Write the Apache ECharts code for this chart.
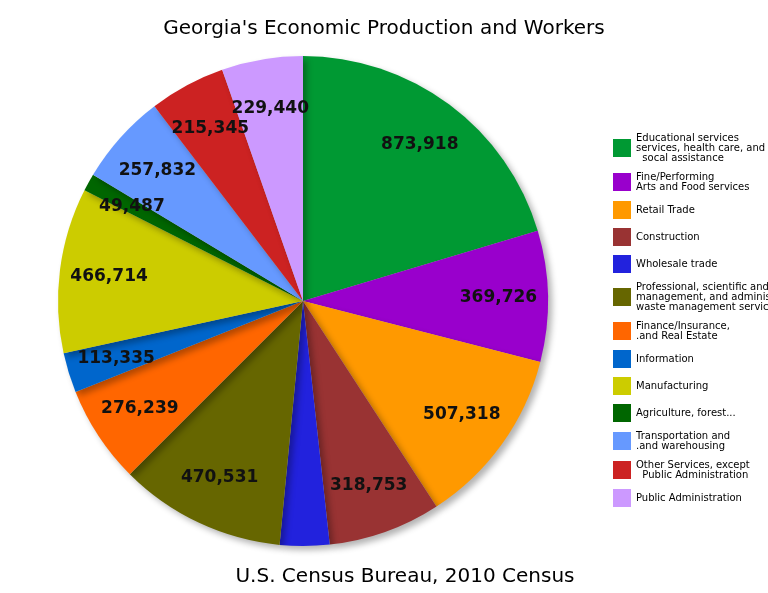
<!DOCTYPE html><html><head><meta charset="utf-8"><script src="https://cdn.jsdelivr.net/npm/echarts@6/dist/echarts.min.js"></script></head><body style="margin:0;background:#fff"><div id="c" style="width:768px;height:593px"></div><script>
const categories=["Educational services\nservices, health care, and\n  socal assistance","Fine/Performing\nArts and Food services","Retail Trade","Construction","Wholesale trade","Professional, scientific and\nmanagement, and administrative\nwaste management services","Finance/Insurance,\n.and Real Estate","Information","Manufacturing","Agriculture, forest...","Transportation and\n.and warehousing","Other Services, except\n  Public Administration","Public Administration"];
const values=[873918,369726,507318,318753,140068,470531,276239,113335,466714,49487,257832,215345,229440];
const colors=["#009933","#9900cc","#ff9900","#993333","#2222dd","#666600","#ff6600","#0066cc","#cccc00","#006600","#6699ff","#cc2222","#cc99ff"];
const data=categories.map((n,i)=>({name:n,value:values[i],itemStyle:{color:colors[i]}}));
const ch=echarts.init(document.getElementById('c'));
ch.setOption({animation:false,
title:[{text:"Georgia's Economic Production and Workers",left:'center',top:14,textStyle:{fontFamily:'DejaVu Sans',fontSize:20,fontWeight:'normal',color:'#000'}},
{text:"U.S. Census Bureau, 2010 Census",left:400,textAlign:'center',top:562,textStyle:{fontFamily:'DejaVu Sans',fontSize:20,fontWeight:'normal',color:'#000'}}],
legend:{orient:'vertical',left:608,top:128,itemWidth:18,itemHeight:18,itemGap:9,icon:'rect',selectedMode:false,
 textStyle:{fontFamily:'DejaVu Sans',fontSize:10,lineHeight:10,color:'#000'},data:categories},
series:[{type:'pie',center:[303,301],radius:245,startAngle:90,clockwise:true,data:data,label:{show:false},
 itemStyle:{shadowBlur:6,shadowOffsetX:4,shadowOffsetY:4,shadowColor:'rgba(0,0,0,0.3)'}},
{type:'pie',center:[303,301],radius:385,startAngle:90,clockwise:true,silent:true,legendHoverLink:false,
 data:values.map((v,i)=>({name:'l'+i,value:v})),itemStyle:{color:'rgba(0,0,0,0)'},
 label:{show:true,position:'inside',formatter:p=>p.value.toLocaleString('en-US'),fontFamily:'DejaVu Sans',fontSize:17,fontWeight:'bold',color:'#111'}}]});
</script></body></html>
